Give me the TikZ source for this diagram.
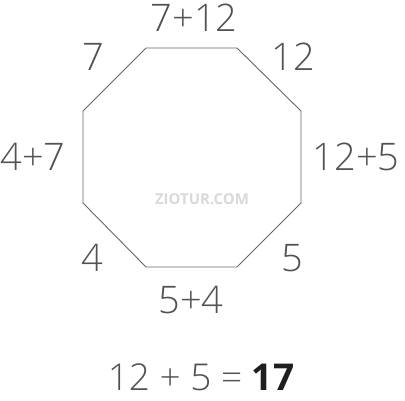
\documentclass[tikz,border=0pt]{standalone}
\usepackage{fontspec}
\IfFontExistsTF{Open Sans Light}{%
  \setmainfont{Open Sans Light}[BoldFont={Open Sans Bold}]}{%
  \setmainfont{Open Sans}}
\begin{document}
\begin{tikzpicture}[x=1pt,y=-1pt,
  lbl/.style={text=black!68, font=\fontsize{38}{40}\selectfont, inner sep=0pt},
  edge/.style={draw=black!60, line width=0.9pt}]
\useasboundingbox (0,0) rectangle (405,400);
\coordinate (v1) at (146,48);
\coordinate (v2) at (237,48);
\coordinate (v3) at (301,111);
\coordinate (v4) at (301,203);
\coordinate (v5) at (237,267);
\coordinate (v6) at (146,267);
\coordinate (v7) at (83,203);
\coordinate (v8) at (83,111);
\draw[edge] (v1) -- (v2) -- (v3) -- (v4) -- (v5) -- (v6) -- (v7) -- (v8) -- cycle;
\node[text=black!15, font=\bfseries\fontsize{15}{16}\selectfont] (wm) at (202,199) {ZIOTUR.COM};
\node[lbl] (t) at (194,18) {7+12};
\node[lbl] (a) at (93,57) {7};
\node[lbl] (b) at (293,57) {12};
\node[lbl] (l) at (33,157) {4+7};
\node[lbl] (r) at (356,157) {12+5};
\node[lbl] (c) at (92,258) {4};
\node[lbl] (d) at (292,258) {5};
\node[lbl] (bt) at (191,300) {5+4};
\node[lbl, font=\fontsize{37}{39}\selectfont] (eq) at (201,377) {12 + 5 = \textbf{\textcolor{black!88}{17}}};
\end{tikzpicture}
\end{document}
